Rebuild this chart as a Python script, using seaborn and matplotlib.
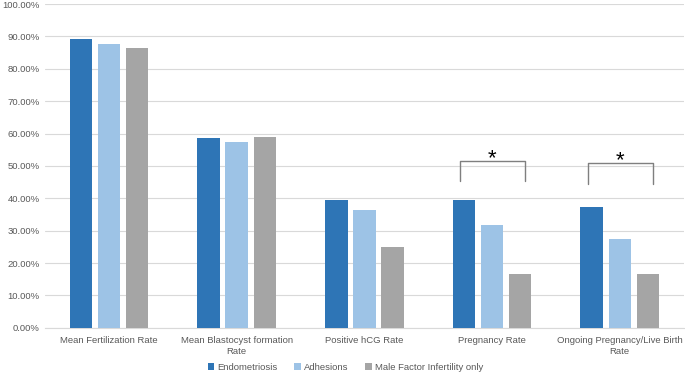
import pandas as pd
import matplotlib
matplotlib.use('Agg')
import matplotlib.pyplot as plt
from matplotlib.ticker import PercentFormatter
import seaborn as sns

categories = ['Mean Fertilization Rate', 'Mean Blastocyst formation\nRate', 'Positive hCG Rate',
              'Pregnancy Rate', 'Ongoing Pregnancy/Live Birth\nRate']
groups = ['Endometriosis', 'Adhesions', 'Male Factor Infertility only']
endometriosis = [89.2, 58.6, 39.5, 39.5, 37.3]
adhesions = [87.7, 57.4, 36.4, 31.8, 27.5]
male_factor = [86.4, 59.0, 25.0, 16.7, 16.7]
# significance brackets: category index, top of bracket, bottom of legs
sig_cats = [3, 4]
sig_top = [51.5, 50.9]
sig_legs = [45.4, 44.4]

colors = ['#2E75B6', '#9DC3E6', '#A5A5A5']

df = pd.DataFrame({
    'Category': categories * 3,
    'Group': [g for g in groups for _ in categories],
    'Rate': endometriosis + adhesions + male_factor,
})

sns.set_style('white')
plt.rcParams['font.family'] = ['Liberation Sans', 'DejaVu Sans']

fig, ax = plt.subplots(figsize=(6.85, 3.73), dpi=100)
fig.subplots_adjust(left=0.066, right=0.998, bottom=0.121, top=0.989)

sns.barplot(data=df, x='Category', y='Rate', hue='Group', palette=colors,
            width=0.66, gap=0.2, ax=ax, zorder=3, saturation=1, edgecolor='none')

ax.set_ylim(0, 100)
ax.set_yticks(range(0, 101, 10))
ax.yaxis.set_major_formatter(PercentFormatter(decimals=2))
ax.grid(axis='y', color='#D9D9D9', linewidth=0.8, zorder=0)
ax.set_xlim(-0.5, 4.5)
for s in ['top', 'right', 'left']:
    ax.spines[s].set_visible(False)
ax.spines['bottom'].set_color('#D9D9D9')
ax.tick_params(axis='y', length=0, labelsize=6.8, labelcolor='#595959', pad=4)
ax.tick_params(axis='x', length=0, labelsize=6.8, labelcolor='#595959', pad=6)
ax.set_xlabel('')
ax.set_ylabel('')

for c, top, leg in zip(sig_cats, sig_top, sig_legs):
    x0, x1 = c - 0.25, c + 0.26
    ax.plot([x0, x0, x1, x1], [leg, top, top, leg], color='#7F7F7F', lw=1, zorder=4)
    ax.text(c, top - 2.5, '*', ha='center', va='bottom', fontsize=16, color='black')

ax.legend(loc='center', bbox_to_anchor=(0.504, 0.015), bbox_transform=fig.transFigure,
          ncol=3, frameon=False, fontsize=6.8, handlelength=0.7, handleheight=0.7,
          handletextpad=0.3, columnspacing=1.8, labelcolor='#595959', borderpad=0)

fig.savefig('out.png', dpi=100)
